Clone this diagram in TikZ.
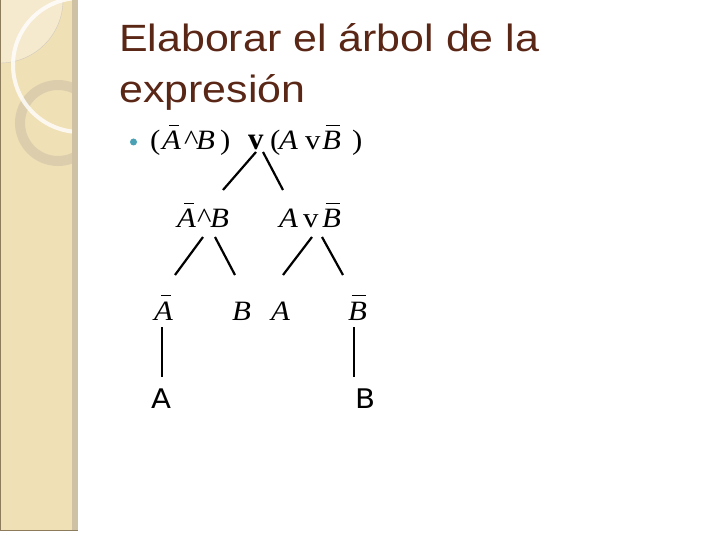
\documentclass[tikz,border=0pt]{standalone}
\usepackage{graphicx}
\usepackage{fontspec}
\setmainfont{Liberation Serif}[FakeStretch=1.1]
\newfontfamily\titlefont{Liberation Sans}[FakeStretch=1.13]
\newfontfamily\leaffont{DejaVu Sans}[FakeStretch=1.08]
\definecolor{sidebg}{RGB}{240,224,182}
\definecolor{sidelight}{RGB}{245,233,206}
\definecolor{stripe}{RGB}{206,193,164}
\definecolor{sideedge}{RGB}{140,124,92}
\definecolor{ringcol}{RGB}{218,204,172}
\definecolor{titlecol}{RGB}{90,38,22}
\definecolor{bulletcol}{RGB}{75,160,180}
% glyph in a box of fixed width
\newcommand\gl[2]{\makebox[#1pt][l]{#2}}
% italic letter with a bar over it (#2,#3: start and length of the bar, in fractions of the width)
\newcommand\barlet[3]{\setbox0\hbox{\textit{#1}}\rlap{\kern#2\wd0\rule[0.86em]{#3\wd0}{0.05em}}\box0}
\newcommand\barA{\barlet{A}{0.38}{0.5}}
\newcommand\barB{\barlet{B}{0.2}{0.75}}
\newcommand\cart{\textasciicircum}
\begin{document}
\begin{tikzpicture}[x=1pt,y=-1pt,
  lbl/.style={inner sep=0pt,anchor=base west,font=\fontsize{28}{32}\selectfont},
  leaf/.style={inner sep=0pt,anchor=base west,font=\leaffont\fontsize{27}{30}\selectfont},
  ttl/.style={inner sep=0pt,anchor=base west,text=titlecol,font=\titlefont\fontsize{38}{46}\selectfont},
  edge/.style={line width=2.2pt,black}]
\useasboundingbox (0,0) rectangle (720,540);
% sidebar
\fill[sidebg] (0,0) rectangle (78,531);
\begin{scope}
\clip (0,0) rectangle (72,531);
\fill[sidelight] (0,0) circle (63);
\draw[sideedge!40,line width=0.4pt] (0,0) circle (63);
\draw[ringcol,line width=10pt,opacity=0.9] (58,123) circle (38);
\draw[white,line width=4pt,opacity=0.8] (80,65) circle (67);
\end{scope}
\fill[stripe] (72,0) rectangle (78,531);
\draw[sideedge,line width=1pt] (0.5,0) -- (0.5,530.5) -- (78,530.5);
% title
\node[ttl] (title1) at (119,52) {Elaborar el árbol de la};
\node[ttl] (title2) at (119,103) {expresión};
% bullet
\fill[bulletcol] (133.5,142) circle (3.5);
% tree
\node[lbl] (root) at (150,150) {\gl{12}{(}\gl{22}{\barA}\gl{12}{\cart}\gl{24}{\textit{B}}\gl{28}{)}\gl{22}{\scalebox{1}[1.12]{\textbf{v}}}\gl{9}{(}\gl{26}{\textit{A}}\gl{17}{v}\gl{30}{\barB})};
\node[lbl] (n1) at (177,228) {\gl{20}{\barA}\gl{13}{\cart}\textit{B}};
\node[lbl] (n2) at (279,228) {\gl{24}{\textit{A}}\gl{19}{v}\barB};
\node[lbl] (l1) at (154,320) {\barA};
\node[lbl] (l2) at (232,320) {\textit{B}};
\node[lbl] (l3) at (271,320) {\textit{A}};
\node[lbl] (l4) at (348,320) {\barB};
\node[leaf] (a) at (151,408) {A};
\node[leaf] (b) at (355,408) {B};
% connector end points
\coordinate (r1) at (256,152); \coordinate (r2) at (263,152);
\coordinate (n1t) at (223,190); \coordinate (n2t) at (283,190);
\coordinate (n1a) at (203,237); \coordinate (n1b) at (215,237);
\coordinate (n2a) at (312,237); \coordinate (n2b) at (322,237);
\coordinate (l1t) at (175,275); \coordinate (l2t) at (235,275);
\coordinate (l3t) at (283,275); \coordinate (l4t) at (343,275);
\coordinate (l1b) at (162,327); \coordinate (at) at (162,377);
\coordinate (l4b) at (354,327); \coordinate (bt) at (354,377);
\draw[edge] (r1) -- (n1t);
\draw[edge] (r2) -- (n2t);
\draw[edge] (n1a) -- (l1t);
\draw[edge] (n1b) -- (l2t);
\draw[edge] (n2a) -- (l3t);
\draw[edge] (n2b) -- (l4t);
\draw[edge] (l1b) -- (at);
\draw[edge] (l4b) -- (bt);
\end{tikzpicture}
\end{document}
